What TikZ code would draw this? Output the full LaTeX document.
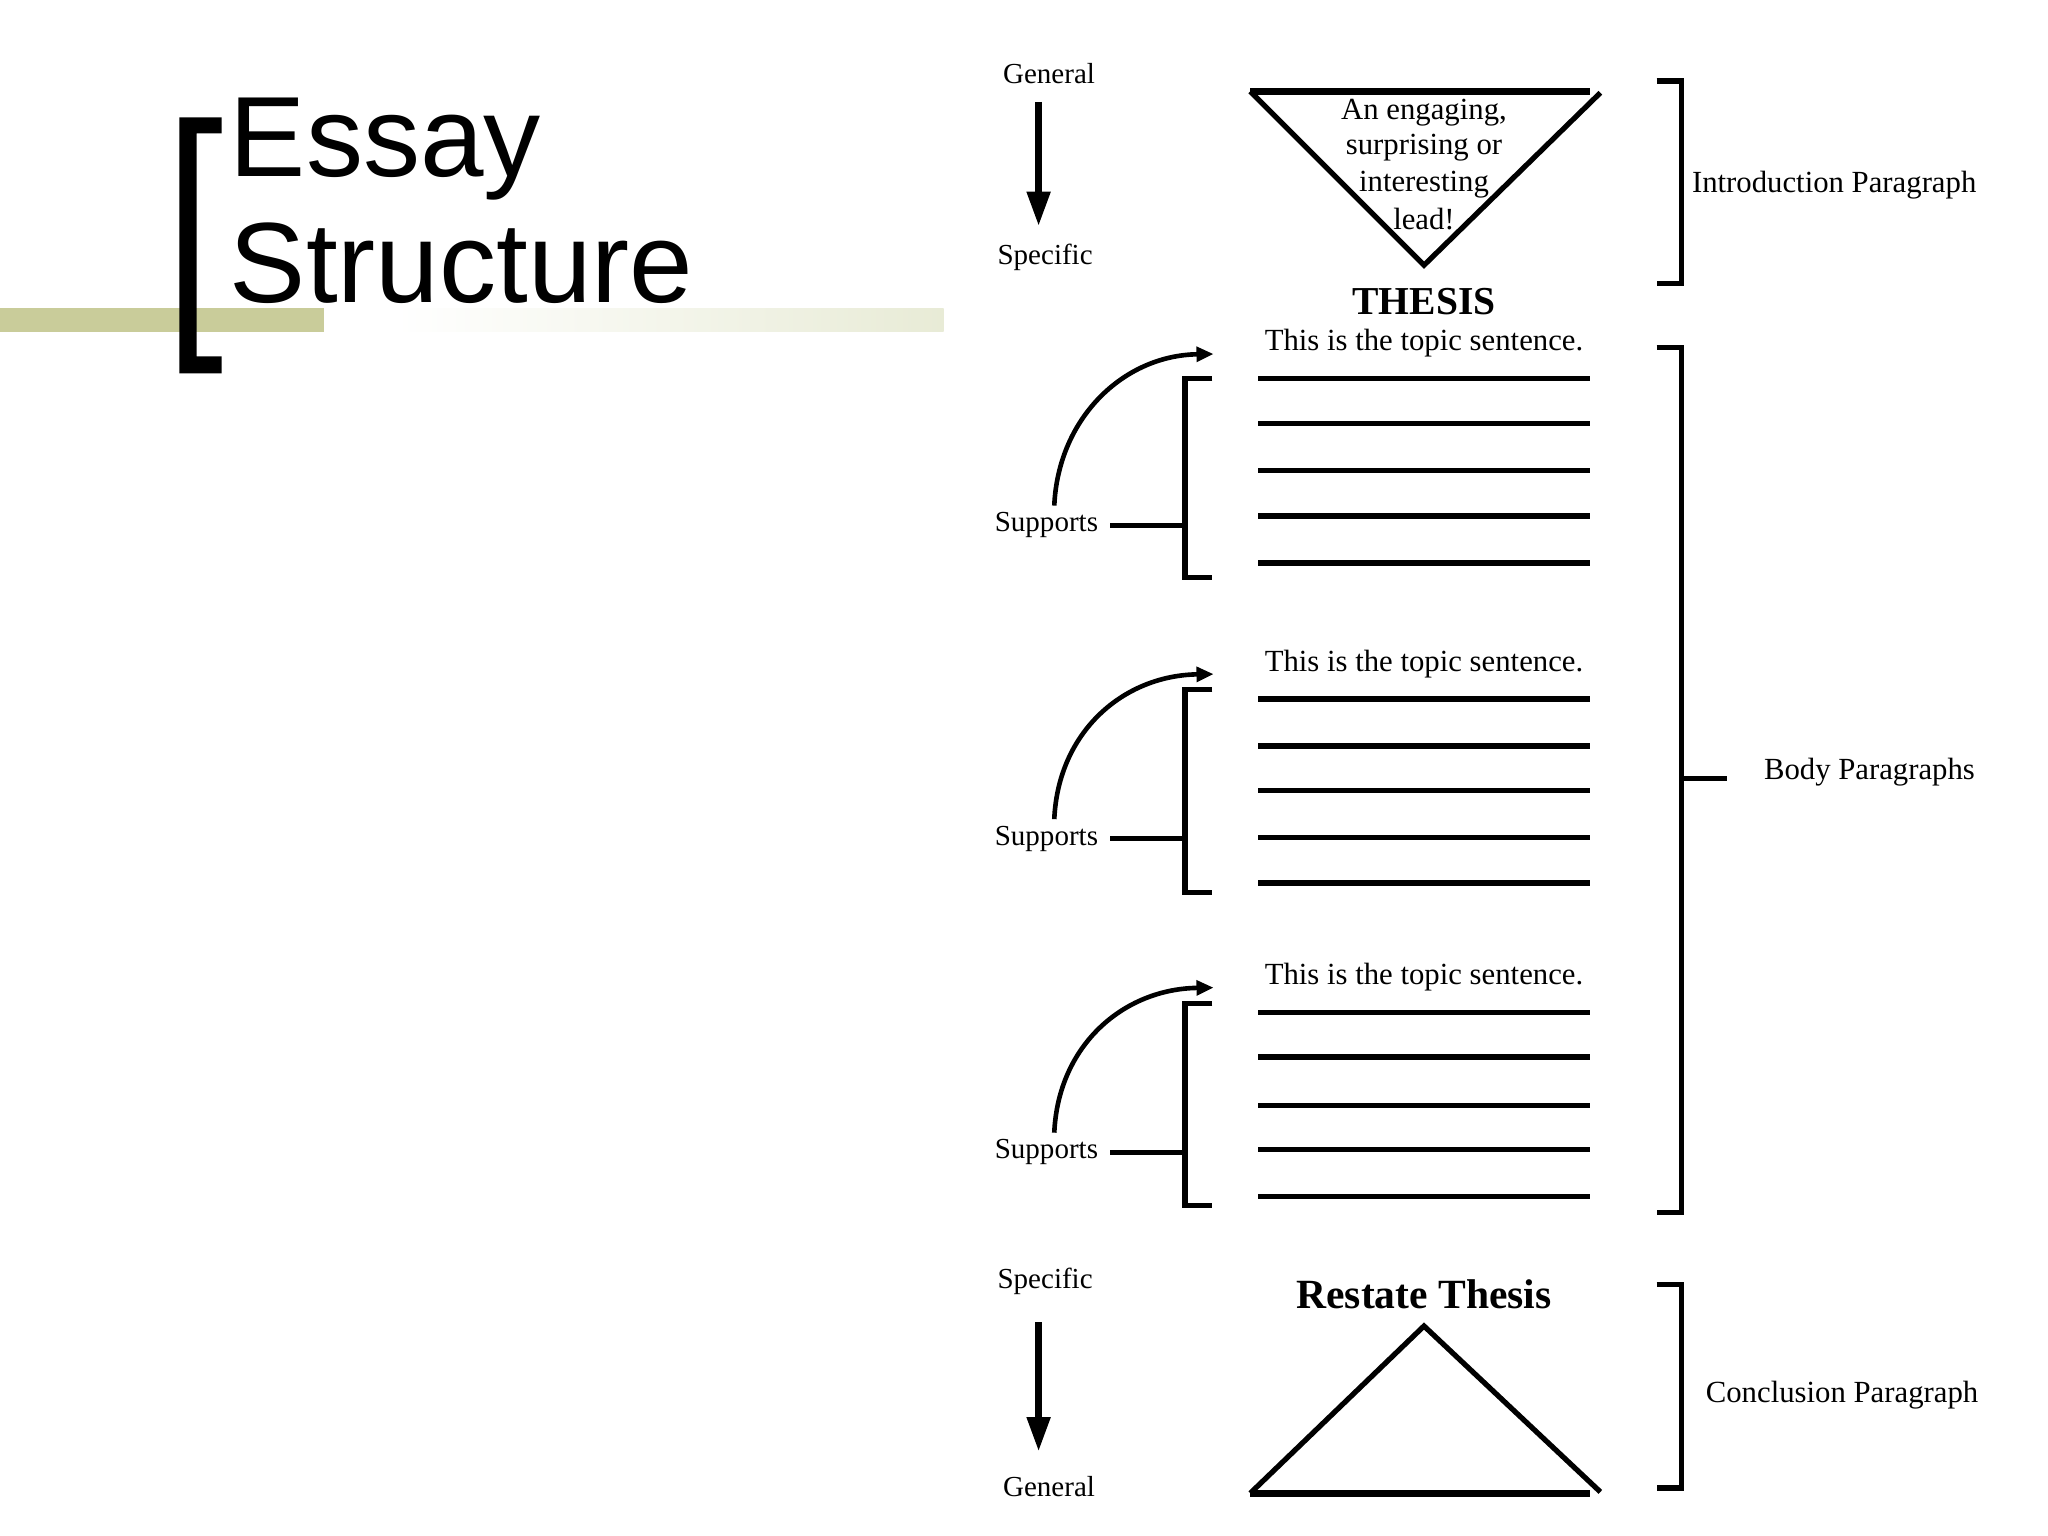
\documentclass[tikz,border=0pt]{standalone}
\usepackage{fontspec}
\setmainfont{Liberation Serif}
\newfontfamily\titlefont{Liberation Sans}
\usetikzlibrary{arrows.meta}
\definecolor{barolive}{RGB}{201,204,154}
\definecolor{barlight}{RGB}{232,235,214}
\begin{document}
\begin{tikzpicture}[x=1pt,y=-1pt,
  lbl/.style={font=\fontsize{22}{24}\selectfont, inner sep=0pt},
  lblw/.style={font=\fontsize{23.3}{25}\selectfont, inner sep=0pt},
  bold/.style={font=\bfseries\fontsize{30}{32}\selectfont, inner sep=0pt},
  ttl/.style={font=\titlefont\fontsize{86.5}{90}\selectfont, inner sep=0pt, anchor=base west},
  bigarr/.style={line width=5pt, -{Triangle[length=26pt,width=17pt]}},
  carr/.style={line width=3.5pt, -{Triangle[length=13pt,width=11pt]}},
  tri/.style={line width=4pt, line join=miter},
  rule/.style={line width=4pt},
  brk/.style={line width=4pt},
  conn/.style={line width=4pt}]
\useasboundingbox (0,0) rectangle (1552,1164);
\fill[white] (0,0) rectangle (1552,1164);

% ---------- title ----------
\fill[barolive] (0,233.5) rectangle (245.5,251.5);
\shade[left color=white, right color=barlight] (300,233.5) rectangle (715,251.5);
\fill[black] (136,89) -- (168,89) -- (168,101) -- (149,101) -- (149,270)
  -- (168,270) -- (168,283) -- (136,283) -- cycle;
\node[ttl] (title1) at (174,134) {Essay};
\node[ttl] (title2) at (174,229.5) {Structure};

\begin{scope}[scale=0.99]
% ---------- introduction ----------
\node[lbl] (gen1) at (803,56) {General};
\node[lbl] (spec1) at (800,197) {Specific};
\coordinate (a1s) at (795,78);
\coordinate (a1e) at (795,173);
\draw[bigarr] (a1s) -- (a1e);

\coordinate (itl) at (957,70);
\coordinate (itr) at (1225,71);
\coordinate (itq) at (1217,70);
\coordinate (ita) at (1090,203);
\draw[tri] (itl) -- (ita) -- (itr);
\draw[line width=5.5pt] (itl) -- (itq);
\node[lblw] (lead1) at (1090,86) {An engaging,};
\node[lblw] (lead2) at (1090,113) {surprising or};
\node[lblw] (lead3) at (1090,141) {interesting};
\node[lblw] (lead4) at (1090,168) {lead!};

\draw[brk] (1268,62) -- (1287,62) -- (1287,217) -- (1268,217);
\node[lblw] (intro) at (1404,142) {Introduction Paragraph};

\node[bold] (thesis) at (1090,231) {THESIS};

% ---------- body paragraphs ----------
\foreach \k/\t/\la/\lb/\lc/\ld/\le/\bt/\bb/\s in
  {1/263/290/324/360/395/431/290/442/402,
   2/508/535/571/605/641/676/528/683/642,
   3/748/775/809/846/880/916/768/923/882}{
  \node[lblw] (topic\k) at (1090,\t) {This is the topic sentence.};
  \foreach \y in {\la,\lb,\lc,\ld,\le}
    \draw[rule] (963,\y) -- (1217,\y);
  \draw[brk] (928,\bt) -- (907,\bt) -- (907,\bb) -- (928,\bb);
  \coordinate (bm\k) at (907,\s);
  \node[lbl] (sup\k) at (801,\s) {Supports};
  \draw[conn, shorten <=9pt] (sup\k.east) -- (bm\k);
  \coordinate (cs\k) at (807,\s-15);
  \coordinate (ce\k) at (929,\t+8);
  \draw[carr] (cs\k) .. controls (810,\s-82) and (860,\t+9) .. (ce\k);
}

\draw[brk] (1268,266) -- (1287,266) -- (1287,928) -- (1268,928);
\draw[brk] (1287,596) -- (1322,596);
\node[lblw] (body) at (1431,591) {Body Paragraphs};

% ---------- conclusion ----------
\node[lbl] (spec2) at (800,981) {Specific};
\node[lbl] (gen2) at (803,1138) {General};
\coordinate (a2s) at (795,1012);
\coordinate (a2e) at (795,1111);
\draw[bigarr] (a2s) -- (a2e);

\node[bold, font=\bfseries\fontsize{31.5}{33}\selectfont] (restate) at (1090,991) {Restate Thesis};
\coordinate (ctl) at (957,1143);
\coordinate (ctr) at (1225,1142);
\coordinate (ctq) at (1217,1143);
\coordinate (cta) at (1090,1015);
\draw[tri] (ctl) -- (cta) -- (ctr);
\draw[line width=5.5pt] (ctl) -- (ctq);

\draw[brk] (1268,983) -- (1287,983) -- (1287,1139) -- (1268,1139);
\node[lblw] (concl) at (1410,1068) {Conclusion Paragraph};
\end{scope}
\end{tikzpicture}
\end{document}
